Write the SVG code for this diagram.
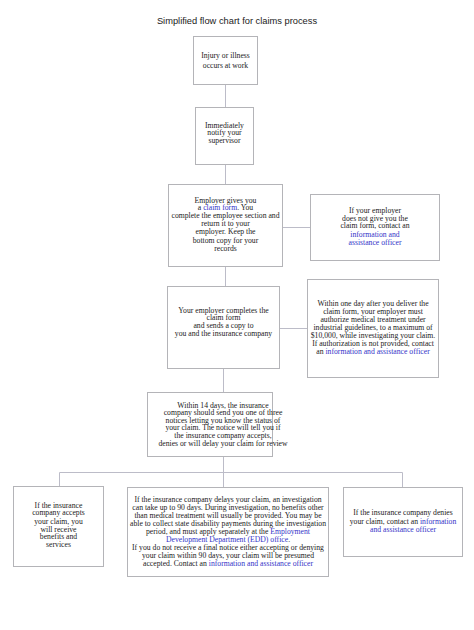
<svg xmlns="http://www.w3.org/2000/svg" width="474" height="630" viewBox="0 0 474 630">
<style>
.box{fill:#fff;stroke:#b4b4b8;stroke-width:1}
.t{font-family:"Liberation Serif","Times New Roman",serif;font-size:7.7px;fill:#1a1a1a;text-anchor:middle}
.a{fill:#3434c8}
.ln{stroke:#bcbcc8;stroke-width:1;fill:none}
.title{font-family:"Liberation Sans",Arial,sans-serif;font-size:9.3px;fill:#1a1a1a;text-anchor:middle}
</style>
<rect width="474" height="630" fill="#fff"/>
<text class="title" x="237" y="24">Simplified flow chart for claims process</text>
<g id="connectors">
<line class="ln" x1="225.5" y1="84" x2="225.5" y2="107"/>
<line class="ln" x1="225.5" y1="164" x2="225.5" y2="184"/>
<line class="ln" x1="225.5" y1="266" x2="225.5" y2="286"/>
<line class="ln" x1="282" y1="227.5" x2="310" y2="227.5"/>
<line class="ln" x1="279" y1="328.5" x2="307" y2="328.5"/>
<line class="ln" x1="223.5" y1="368" x2="223.5" y2="392"/>
<line class="ln" x1="223.5" y1="456" x2="223.5" y2="487"/>
<polyline class="ln" points="59.5,486 59.5,472.5 402.5,472.5 402.5,487"/>
</g>
<g id="n1">
<rect class="box" x="193.5" y="36.5" width="64" height="48"/>
<text class="t" x="225.5" y="57.5">Injury or illness</text>
<text class="t" x="225.5" y="67.8">occurs at work</text>
</g>
<g id="n2">
<rect class="box" x="195.5" y="107.5" width="58" height="57"/>
<text class="t" x="224.5" y="127.5">Immediately</text>
<text class="t" x="224.5" y="135.2">notify your</text>
<text class="t" x="224.5" y="142.7">supervisor</text>
</g>
<g id="n3">
<rect class="box" x="168.5" y="184.5" width="114" height="82"/>
<text class="t" x="225.5" y="202.5">Employer gives you</text>
<text class="t" x="225.5" y="210.2">a <tspan class="a">claim form</tspan>. You</text>
<text class="t" x="225.5" y="217.5">complete the employee section and</text>
<text class="t" x="225.5" y="225.8">return it to your</text>
<text class="t" x="225.5" y="234.2">employer. Keep the</text>
<text class="t" x="225.5" y="242.5">bottom copy for your</text>
<text class="t" x="225.5" y="250.8">records</text>
</g>
<g id="n4">
<rect class="box" x="310.5" y="194.5" width="129" height="66"/>
<text class="t" x="375" y="212.5">If your employer</text>
<text class="t" x="375" y="220.8">does not give you the</text>
<text class="t" x="375" y="228.2">claim form, contact an</text>
<text class="t" x="375" y="236.8"><tspan class="a">information and</tspan></text>
<text class="t" x="375" y="244.8"><tspan class="a">assistance officer</tspan></text>
</g>
<g id="n5">
<rect class="box" x="167.5" y="286.5" width="112" height="82"/>
<text class="t" x="223.5" y="312.5">Your employer completes the</text>
<text class="t" x="223.5" y="320.2">claim form</text>
<text class="t" x="223.5" y="328.2">and sends a copy to</text>
<text class="t" x="223.5" y="335.8">you and the insurance company</text>
</g>
<g id="n6">
<rect class="box" x="307.5" y="279.5" width="131" height="98"/>
<text class="t" x="373" y="305.8">Within one day after you deliver the</text>
<text class="t" x="373" y="313.5">claim form, your employer must</text>
<text class="t" x="373" y="321.5">authorize medical treatment under</text>
<text class="t" x="373" y="329.8">industrial guidelines, to a maximum of</text>
<text class="t" x="373" y="337.5">$10,000, while investigating your claim.</text>
<text class="t" x="373" y="345.5">If authorization is not provided, contact</text>
<text class="t" x="373" y="353.8">an <tspan class="a">information and assistance officer</tspan></text>
</g>
<g id="n7">
<rect class="box" x="147.5" y="392.5" width="125" height="64"/>
<text class="t" x="223" y="407.5">Within 14 days, the insurance</text>
<text class="t" x="223" y="415.2">company should send you one of three</text>
<text class="t" x="223" y="422.5">notices letting you know the status of</text>
<text class="t" x="223" y="430.2">your claim. The notice will tell you if</text>
<text class="t" x="223" y="438.2">the insurance company accepts,</text>
<text class="t" x="223" y="445.8">denies or will delay your claim for review</text>
</g>
<g id="n8">
<rect class="box" x="13.5" y="486.5" width="90" height="80"/>
<text class="t" x="58.5" y="507.5">If the insurance</text>
<text class="t" x="58.5" y="515.2">company accepts</text>
<text class="t" x="58.5" y="523.5">your claim, you</text>
<text class="t" x="58.5" y="531.5">will receive</text>
<text class="t" x="58.5" y="539.2">benefits and</text>
<text class="t" x="58.5" y="546.8">services</text>
</g>
<g id="n9">
<rect class="box" x="127.5" y="487.5" width="201" height="89"/>
<text class="t" x="228" y="501.8">If the insurance company delays your claim, an investigation</text>
<text class="t" x="228" y="510.2">can take up to 90 days. During investigation, no benefits other</text>
<text class="t" x="228" y="517.5">than medical treatment will usually be provided. You may be</text>
<text class="t" x="228" y="525.5">able to collect state disability payments during the investigation</text>
<text class="t" x="228" y="533.5">period, and must apply separately at the <tspan class="a">Employment</tspan></text>
<text class="t" x="228" y="541.8"><tspan class="a">Development Department (EDD) office</tspan>.</text>
<text class="t" x="228" y="549.8">If you do not receive a final notice either accepting or denying</text>
<text class="t" x="228" y="557.5">your claim within 90 days, your claim will be presumed</text>
<text class="t" x="228" y="565.8">accepted. Contact an <tspan class="a">information and assistance officer</tspan></text>
</g>
<g id="n10">
<rect class="box" x="343.5" y="487.5" width="119" height="69"/>
<text class="t" x="403" y="515.2">If the insurance company denies</text>
<text class="t" x="403" y="523.5">your claim, contact an <tspan class="a">information</tspan></text>
<text class="t" x="403" y="531.5"><tspan class="a">and assistance officer</tspan></text>
</g>
</svg>
